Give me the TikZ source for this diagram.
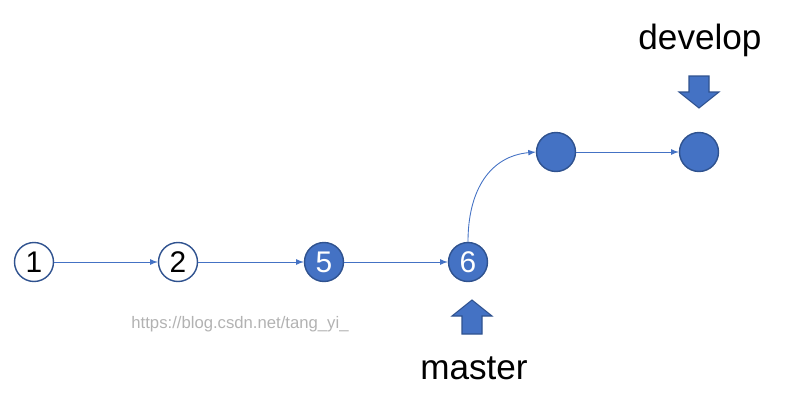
\documentclass[tikz,border=0pt]{standalone}
\usepackage{fontspec}
\setmainfont{Liberation Sans}
\definecolor{fillb}{HTML}{4472C4}
\definecolor{edgeb}{HTML}{2F528F}
\begin{document}
\begin{tikzpicture}[x=0.02cm,y=-0.02cm,
  commit/.style={circle,draw=edgeb,line width=0.8pt,minimum size=0.78cm,inner sep=0pt,font=\fontsize{17}{17}\selectfont},
  full/.style={commit,fill=fillb,text=white},
  empty/.style={commit,fill=white,text=black},
  link/.style={draw=fillb,line width=0.5pt,-latex},
  blk/.style={fill=fillb,draw=edgeb,line width=0.6pt},
  lbl/.style={font=\fontsize{20}{20}\selectfont}]
\useasboundingbox (0,0) rectangle (789,410);
\node[empty] (c1) at (34,262) {1};
\node[empty] (c2) at (178,262) {2};
\node[full] (c5) at (324,262) {5};
\node[full] (c6) at (468,262) {6};
\node[full] (d1) at (556,152) {};
\node[full] (d2) at (699,152) {};
\draw[link] (c1) -- (c2);
\draw[link] (c2) -- (c5);
\draw[link] (c5) -- (c6);
\draw[link] (c6.north) .. controls (468,190) and (490,156) .. (d1.west);
\draw[link] (d1) -- (d2);
\draw[blk] (472,300) -- (492,316) -- (482,316) -- (482,334) -- (462,334) -- (462,316) -- (452,316) -- cycle;
\draw[blk] (699,108) -- (719,92) -- (709,92) -- (709,76) -- (689,76) -- (689,92) -- (679,92) -- cycle;
\node[lbl] (m) at (474,368) {master};
\node[lbl] (dv) at (700,40) {develop};
\node[text=gray!60,font=\fontsize{9.5}{10}\selectfont] (w) at (240,324) {https://blog.csdn.net/tang\_yi\_};
\end{tikzpicture}
\end{document}
